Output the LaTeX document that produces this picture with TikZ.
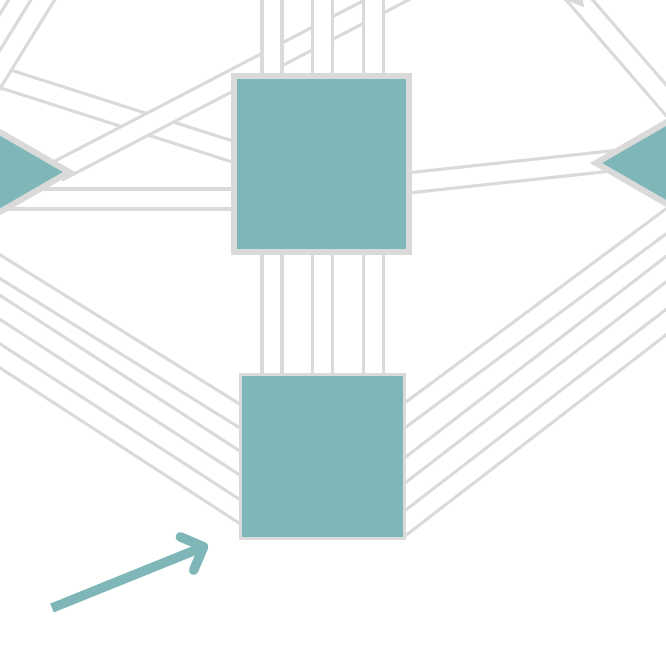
\documentclass[tikz,border=0pt]{standalone}
\usetikzlibrary{shapes.geometric,arrows.meta,backgrounds}
\definecolor{tealfill}{RGB}{127,183,185}
\definecolor{roadgrey}{RGB}{218,218,218}

\begin{document}
\begin{tikzpicture}[x=1pt,y=-1pt,
	road/.style={draw=roadgrey,line width=3.2pt,double=white,double distance=16.8pt},
	hub/.style={rectangle,draw=roadgrey,fill=tealfill,line width=6pt,minimum size=175pt,inner sep=0pt},
	station/.style={regular polygon,regular polygon sides=3,draw=roadgrey,fill=tealfill,line width=6pt,inner sep=0pt},
	pointer/.style={draw=tealfill,line width=9.5pt,-{Straight Barb[length=18pt,width=36pt,round]}}]
	\useasboundingbox (0,0) rectangle (666,666);

	\node[hub] (A) at (321.5,164) {};
	\node[hub,line width=3pt,minimum size=164pt] (B) at (322.5,456.5) {};
	\node[station,minimum size=124pt,shape border rotate=-90] (L) at (7,172) {};
	\node[station,minimum size=104pt,shape border rotate=90] (R) at (648,163) {};
	\node[station,minimum size=116pt,shape border rotate=-140] (T) at (543,-42) {};

	\coordinate (fork) at (-0.5,77);
	\coordinate (n0) at (425,-20);
	\coordinate (n1) at (272,-20);
	\coordinate (n2) at (322.5,-20);
	\coordinate (n3) at (373.5,-20);
	\coordinate (nw) at (52,-15);
	\coordinate (far1) at (-39,58);
	\coordinate (far2) at (9,-20);
	\coordinate (e2) at (700,243);
	\coordinate (e3) at (700,296);
	\coordinate (w2) at (-40,281.4);
	\coordinate (w3) at (-40,329.9);
	\coordinate (tail) at (52,608);

	\begin{scope}[on background layer]
	\fill[white] (0,0) rectangle (666,666);
	\draw [road,shorten >=-12pt] (fork) -- ([yshift=13pt]A.west);
	\draw [road,shorten <=-20pt] ([yshift=10pt]L.corner 1) -- (n0);
	\draw [road] (n1) -- ([xshift=-50.5pt]B.north);
	\draw [road] (n2) -- (B.north);
	\draw [road] (n3) -- ([xshift=51pt]B.north);
	\draw [road,shorten >=-5pt] ([yshift=-27pt]L.center) -- ([yshift=-35pt]A.west);
	\draw [road,shorten <=-8pt] ([yshift=-18.5pt]A.east) -- ([yshift=6pt]R.center);
	\draw [road] (T.center) -- (R.corner 3);
	\draw [road,shorten <=-12pt,shorten >=-10pt] ([yshift=42pt]B.east) -- (R.corner 2);
	\draw [road,shorten <=-12pt] ([yshift=-13pt]B.east) -- (e2);
	\draw [road,shorten <=-12pt] ([yshift=-66pt]B.east) -- (e3);
	\draw [road,shorten <=-12pt] ([yshift=41pt]B.west) -- ([yshift=-19pt]L.corner 3);
	\draw [road,shorten <=-12pt] ([yshift=-6pt]B.west) -- (w2);
	\draw [road,shorten <=-12pt] ([yshift=-54.5pt]B.west) -- (w3);
	\draw [road] (L.corner 2) -- (nw);
	\draw [road] (far1) -- (far2);
	\end{scope}

	\draw [pointer] (tail) -- ([xshift=-31pt,yshift=-5pt]B.south west);
\end{tikzpicture}
\end{document}
